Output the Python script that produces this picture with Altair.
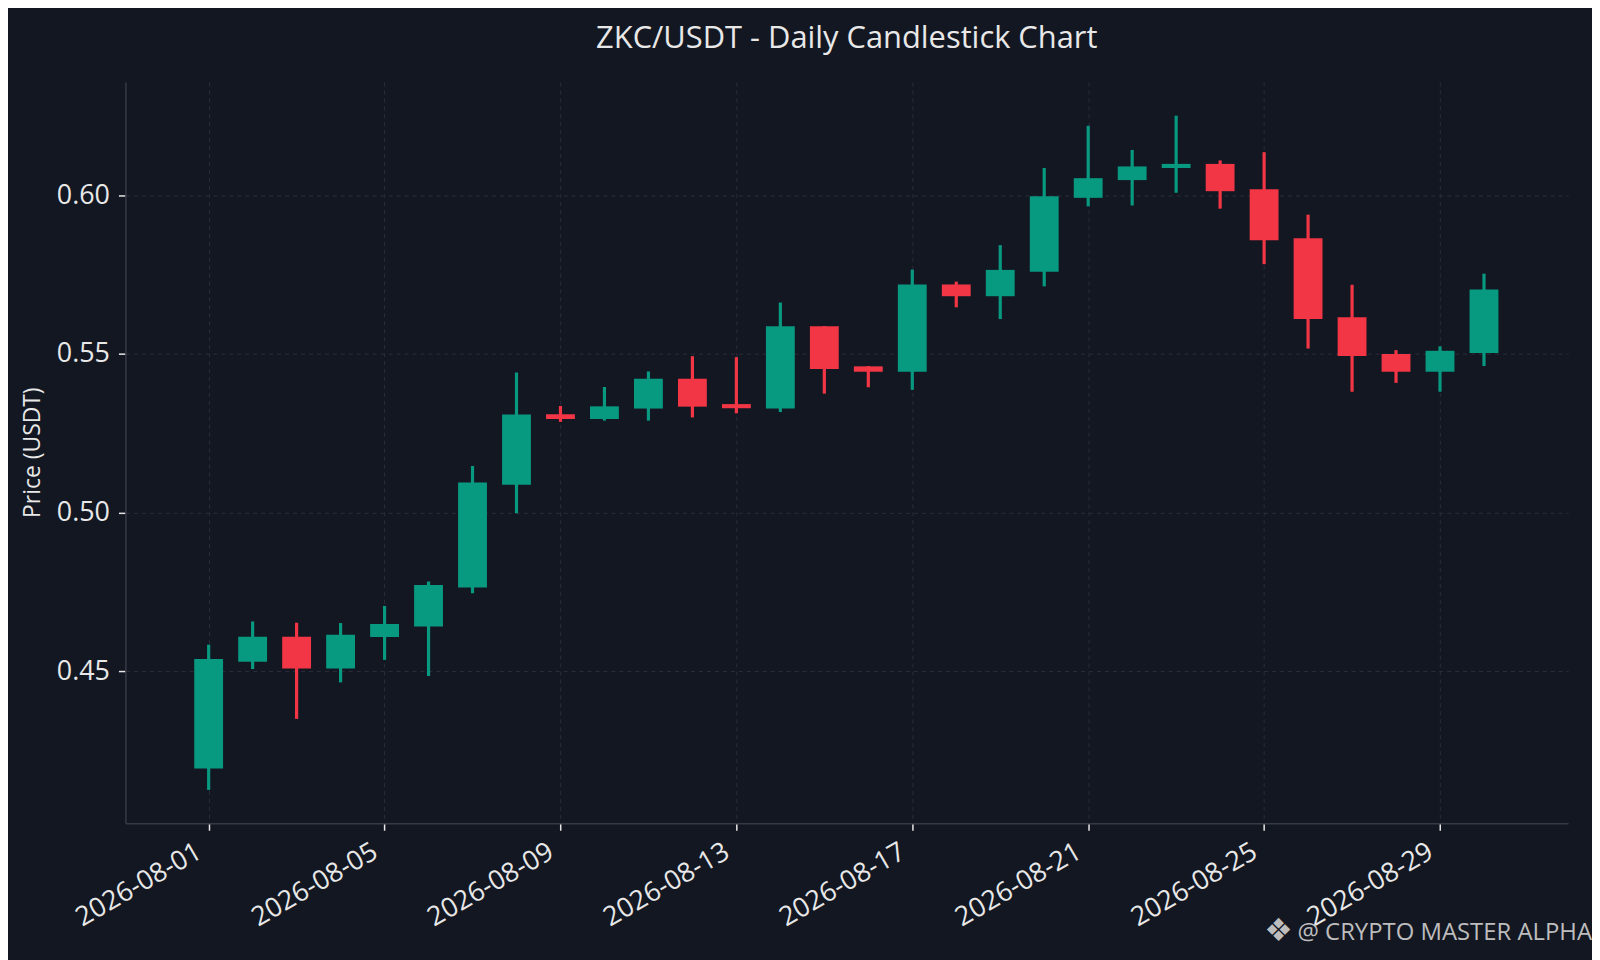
import altair as alt
import pandas as pd

dates = [f"2026-08-{d:02d}" for d in range(1, 31)]
open_ = [0.4194, 0.4530, 0.4609, 0.4509, 0.4608, 0.4641, 0.4764, 0.5088, 0.5310, 0.5295,
         0.5328, 0.5422, 0.5342, 0.5328, 0.5587, 0.5461, 0.5444, 0.5719, 0.5682, 0.5759,
         0.5992, 0.6048, 0.6086, 0.6099, 0.6019, 0.5865, 0.5616, 0.5500, 0.5444, 0.5503]
high = [0.4584, 0.4657, 0.4653, 0.4652, 0.4706, 0.4783, 0.5147, 0.5442, 0.5336, 0.5396,
        0.5445, 0.5493, 0.5490, 0.5662, 0.5588, 0.5462, 0.5766, 0.5728, 0.5843, 0.6086,
        0.6219, 0.6143, 0.6251, 0.6110, 0.6136, 0.5939, 0.5718, 0.5512, 0.5524, 0.5753]
low = [0.4126, 0.4507, 0.4350, 0.4465, 0.4536, 0.4485, 0.4746, 0.4998, 0.5286, 0.5290,
       0.5290, 0.5300, 0.5313, 0.5317, 0.5375, 0.5395, 0.5387, 0.5647, 0.5610, 0.5713,
       0.5965, 0.5968, 0.6008, 0.5958, 0.5783, 0.5517, 0.5381, 0.5409, 0.5381, 0.5462]
close = [0.4539, 0.4609, 0.4509, 0.4615, 0.4649, 0.4772, 0.5095, 0.5309, 0.5295, 0.5335,
         0.5422, 0.5334, 0.5329, 0.5587, 0.5453, 0.5444, 0.5719, 0.5682, 0.5765, 0.5997,
         0.6054, 0.6091, 0.6099, 0.6013, 0.5858, 0.5610, 0.5494, 0.5444, 0.5510, 0.5703]
tick_dates = ["2026-08-01", "2026-08-05", "2026-08-09", "2026-08-13",
              "2026-08-17", "2026-08-21", "2026-08-25", "2026-08-29"]
y_ticks = [0.45, 0.50, 0.55, 0.60]

BG = "#131722"
UP = "#089981"
DOWN = "#F23645"
GRID = "#2a2e39"
TXT = "#e8e8e8"
FONT = "Open Sans"

df = pd.DataFrame({"date": dates, "open": open_, "high": high, "low": low, "close": close})
df["dir"] = ["up" if c >= o else "down" for o, c in zip(open_, close)]


def dt(s, h=0, m=0):
    y, mo, d = [int(p) for p in s.split("-")]
    return alt.DateTime(year=y, month=mo, date=d, hours=h, minutes=m, utc=True)


x_scale = alt.Scale(type="utc", domain=[dt("2026-07-30", 5, 17), dt("2026-08-31", 19, 12)])
y_scale = alt.Scale(domain=[0.4021, 0.6357], nice=False, zero=False)

x_axis = alt.Axis(
    values=[dt(s) for s in tick_dates],
    labelExpr="utcFormat(datum.value, '%Y-%m-%d')",
    labelAngle=330, labelAlign="right", labelBaseline="top", labelPadding=8,
    labelOffset=-16,
    labelFontSize=27, labelFont=FONT, labelColor=TXT, labelOverlap=False,
    tickColor=TXT, tickSize=7, tickWidth=1.5,
    domainColor="#363a45", domainWidth=1.5,
    grid=True, gridColor=GRID, gridDash=[4, 4], gridWidth=1, title=None,
)
y_axis = alt.Axis(
    values=y_ticks, format=".2f",
    labelFontSize=27, labelFont=FONT, labelColor=TXT, labelPadding=9,
    tickColor=TXT, tickSize=7, tickWidth=1.5,
    domainColor="#363a45", domainWidth=1.5,
    grid=True, gridColor=GRID, gridDash=[4, 4], gridWidth=1,
    title="Price (USDT)", titleFont=FONT, titleFontSize=23, titleFontWeight="normal",
    titleColor=TXT, titleAngle=270, titleX=-93, titleY=372,
    titleAlign="center", titleBaseline="middle",
)

color = alt.Color("dir:N", scale=alt.Scale(domain=["up", "down"], range=[UP, DOWN]), legend=None)

base = alt.Chart(df).encode(x=alt.X("date:T", scale=x_scale, axis=x_axis))

wick = base.mark_rule(strokeWidth=3.2).encode(
    y=alt.Y("low:Q", scale=y_scale, axis=y_axis),
    y2="high:Q",
    color=color,
)
body = base.mark_bar(size=29).encode(
    y=alt.Y("open:Q", scale=y_scale),
    y2="close:Q",
    color=color,
)

wm_df = pd.DataFrame({"t": ["@ CRYPTO MASTER ALPHA"]})
watermark = alt.Chart(wm_df).mark_text(
    font=FONT, fontSize=24, color="#bdbdbd", align="right", baseline="alphabetic"
).encode(text="t:N", x=alt.value(1474), y=alt.value(862))
logo_df = pd.DataFrame({"t": ["❖"]})
logo = alt.Chart(logo_df).mark_text(
    font="DejaVu Sans", fontSize=32, color="#bdbdbd", align="center", baseline="middle"
).encode(text="t:N", x=alt.value(1159), y=alt.value(853))

chart = alt.layer(wick, body, watermark, logo).properties(
    width=1450, height=745,
    title=alt.TitleParams(
        "ZKC/USDT - Daily Candlestick Chart", font=FONT, fontSize=31, fontWeight="normal",
        color=TXT, anchor="middle", baseline="alphabetic", offset=33, frame="group", dy=30,
    ),
    autosize=alt.AutoSizeParams(type="none"),
    padding={"left": 118, "top": 72, "right": 24, "bottom": 135},
    background=BG,
).configure_view(stroke=None)

chart.save("out.html", embed_options={"renderer": "svg", "actions": False})
